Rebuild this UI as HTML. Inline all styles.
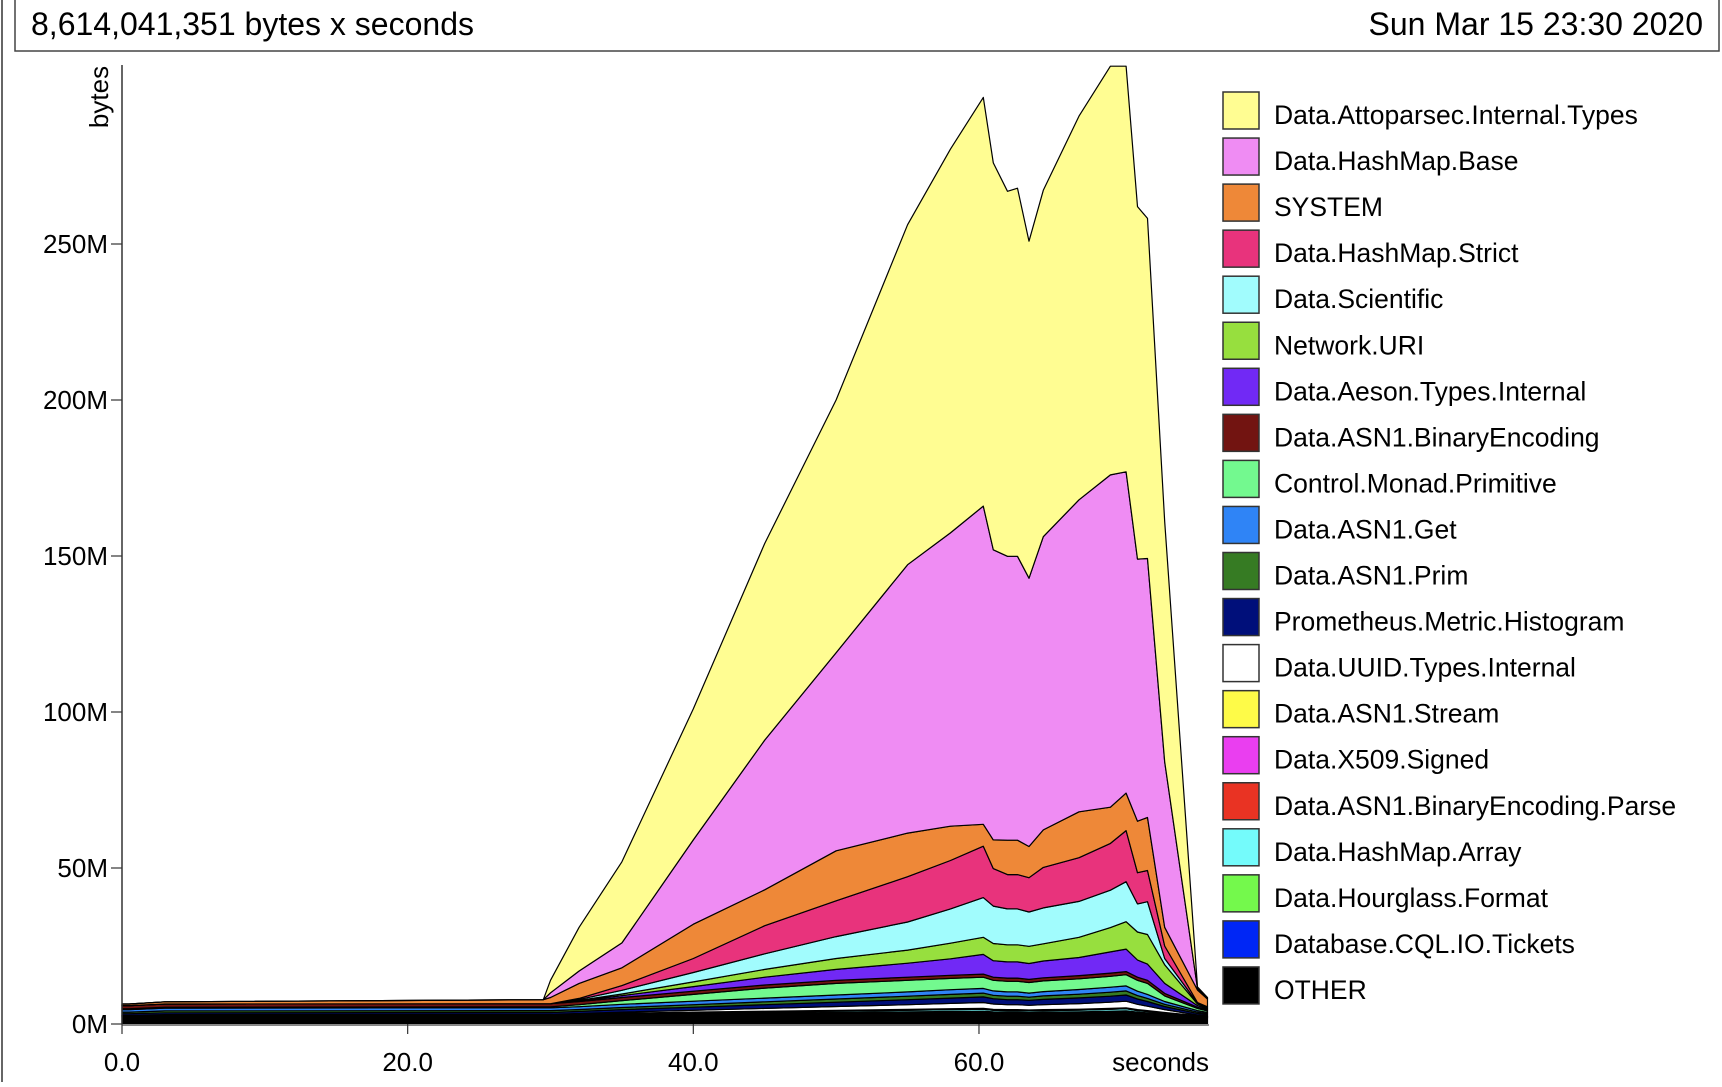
<!DOCTYPE html>
<html><head><meta charset="utf-8">
<style>
html,body{margin:0;padding:0;background:#fff;}
body{width:1722px;height:1082px;overflow:hidden;font-family:"Liberation Sans",Arial,sans-serif;}
svg text{font-family:"Liberation Sans",Arial,sans-serif;fill:#000;}
</style></head>
<body>
<svg id="chart" width="1722" height="1082" viewBox="0 0 1722 1082" xmlns="http://www.w3.org/2000/svg">
  <line x1="2" y1="0" x2="2" y2="1082" stroke="#666" stroke-width="2"/>
  <rect x="15" y="-2" width="1704" height="53" fill="#fff" stroke="#444" stroke-width="1.5"/>
  <text x="31" y="35" font-size="32">8,614,041,351 bytes x seconds</text>
  <text x="1703" y="35" font-size="32" text-anchor="end">Sun Mar 15 23:30 2020</text>
  <text transform="translate(108,97) rotate(-90)" font-size="26" text-anchor="middle">bytes</text>
  <g id="layers"></g>
  <g id="axes"></g>
  <g id="legend"></g>
</svg>
<script>
const times = [0,0.5,3,29.5,30,32,35,40,45,50,55,58,60.3,61,62,62.7,63.5,64.5,67,69.2,70.3,71.1,71.8,73,75.3,76];
const seriesNames = ["OTHER","Database.CQL.IO.Tickets","Data.Hourglass.Format","Data.HashMap.Array","Data.ASN1.BinaryEncoding.Parse","Data.X509.Signed","Data.ASN1.Stream","Data.UUID.Types.Internal","Prometheus.Metric.Histogram","Data.ASN1.Prim","Data.ASN1.Get","Control.Monad.Primitive","Data.ASN1.BinaryEncoding","Data.Aeson.Types.Internal","Network.URI","Data.Scientific","Data.HashMap.Strict","SYSTEM","Data.HashMap.Base","Data.Attoparsec.Internal.Types"];
const seriesColors = ["#000000","#0026f5","#74f94c","#74fbfb","#e93323","#ea3ef0","#fefb48","#ffffff","#000f7a","#367b23","#2f84f6","#73f98f","#721411","#7129f5","#97df3e","#a1fcfd","#e8337c","#ee8838","#ef8cf3","#fffd92"];
// values in MB per series (bottom to top)
const vOther = [2.2,2.2,2.4,2.5,2.5,2.6,2.8,3.0,3.2,3.4,3.6,3.7,3.8,3.6,3.5,3.5,3.4,3.5,3.6,3.8,3.9,3.5,3.3,2.8,2.0,1.8];
const vCql = [0.2,0.2,0.2,0.2,0.2,0.2,0.2,0.2,0.2,0.2,0.2,0.2,0.2,0.2,0.2,0.2,0.2,0.2,0.2,0.2,0.2,0.2,0.2,0.2,0.2,0.2];
const vHourglass = [0.1,0.1,0.1,0.1,0.1,0.1,0.1,0.1,0.1,0.1,0.1,0.1,0.1,0.1,0.1,0.1,0.1,0.1,0.1,0.1,0.1,0.1,0.1,0.1,0.1,0.1];
const vHmArray = [0,0,0,0,0,0.05,0.1,0.2,0.3,0.4,0.5,0.6,0.6,0.5,0.5,0.5,0.5,0.5,0.55,0.6,0.7,0.5,0.4,0.3,0.1,0.1];
const vParse = [0.1,0.1,0.1,0.1,0.1,0.1,0.1,0.1,0.1,0.1,0.1,0.1,0.1,0.1,0.1,0.1,0.1,0.1,0.1,0.1,0.1,0.1,0.1,0.1,0.1,0.1];
const vX509 = [0.1,0.1,0.1,0.1,0.1,0.1,0.1,0.1,0.1,0.1,0.1,0.1,0.1,0.1,0.1,0.1,0.1,0.1,0.1,0.1,0.1,0.1,0.1,0.1,0.1,0.1];
const vStream = [0.1,0.1,0.1,0.1,0.1,0.1,0.1,0.1,0.1,0.1,0.1,0.1,0.1,0.1,0.1,0.1,0.1,0.1,0.1,0.1,0.1,0.1,0.1,0.1,0.1,0.1];
const vUuid = [0,0,0,0,0,0.1,0.3,0.6,0.9,1.2,1.5,1.7,1.9,1.7,1.6,1.6,1.5,1.6,1.8,2.0,2.1,1.7,1.4,0.9,0.2,0.1];
const vHistogram = [0.5,0.5,0.6,0.6,0.6,0.7,0.8,1.0,1.2,1.4,1.6,1.7,1.8,1.7,1.6,1.6,1.6,1.7,1.8,1.9,2.0,1.7,1.5,1.0,0.5,0.4];
const vPrim = [0.5,0.5,0.6,0.6,0.6,0.6,0.7,0.8,0.9,1.0,1.1,1.2,1.2,1.1,1.1,1.1,1.0,1.1,1.2,1.3,1.3,1.1,1.0,0.7,0.4,0.3];
const vGet = [0.8,0.8,0.9,0.9,0.9,0.9,1.0,1.1,1.2,1.3,1.4,1.5,1.5,1.4,1.4,1.4,1.3,1.4,1.5,1.6,1.6,1.4,1.3,0.9,0.5,0.4];
const vMonad = [0.3,0.3,0.3,0.3,0.3,0.65,1.2,2.2,3.2,3.7,3.7,3.6,3.6,3.4,3.4,3.4,3.4,3.4,3.45,3.5,3.6,3.5,3.5,1.8,0.7,0.5];
const vBinEnc = [1,1,1,1,1,1,1,1,1,1,1,1,1,1,1,1,1,1,1,1,1,1,1,0.8,0.4,0.3];
const vAeson = [0,0,0,0,0,0.2,0.6,1.5,2.5,3.5,4.5,5.3,6.3,5.3,5.2,5.2,5.1,5.4,5.8,6.8,7.2,5.5,5.2,3.2,0.5,0.3];
const vUri = [0,0,0,0,0,0.2,0.5,1.5,2.5,3.5,4.2,5,5.5,5.5,5.5,5.5,5.5,5.5,6.5,7.8,8.8,9,9.5,6,0.5,0.3];
const vScientific = [0,0,0,0,0,0.3,1.2,3,5,7,9,11,12.7,12,11.5,11.5,11,11.5,11.5,12,12.8,9,10.5,2,0.3,0.2];
const vStrict = [0,0,0,0,0,0.3,1.5,4.5,9,11.5,14.5,15.5,16.5,12,11,11,11,13,14,15,16.4,10,10,4,0.2,0.2];
const vSystem = [0.5,0.5,0.7,1.3,2,4.8,5.7,11,11.5,16,14,11,7,9.2,11,11,10,12,14.7,11.6,12,16.5,17,6,4,2.5];
const vBase = [0,0,0,0,1.5,4,8,27,48,63.5,86,94,102,93,91,91,86,94,100,106.5,103,84,83,53,0.5,0.3];
const vAtto = [0,0,0,0,4,14,26,42,63,81,109,123,131,124,117,118,108,111,123,131,130,113,109,77,0.5,0.2];
const yTickValues = [0,50,100,150,200,250];
const yTickLabels = ["0M","50M","100M","150M","200M","250M"];
const xTickValues = [0,20,40,60];
const xTickLabels = ["0.0","20.0","40.0","60.0"];

const seriesValues = [vOther,vCql,vHourglass,vHmArray,vParse,vX509,vStream,vUuid,vHistogram,vPrim,vGet,vMonad,vBinEnc,vAeson,vUri,vScientific,vStrict,vSystem,vBase,vAtto];
const NS = "http://www.w3.org/2000/svg";
const X0 = 122, XPS = 14.283, Y0 = 1024, YPM = 3.12;
function xs(t){ return X0 + t*XPS; }
function ys(v){ return Y0 - v*YPM; }

const layers = document.getElementById('layers');
let cum = times.map(()=>0);
seriesValues.forEach((vals,si)=>{
  const lower = cum.slice();
  const upper = cum.map((c,i)=>c+vals[i]);
  let d = "M" + times.map((t,i)=>xs(t).toFixed(1)+","+ys(upper[i]).toFixed(1)).join(" L");
  for(let i=times.length-1;i>=0;i--) d += " L"+xs(times[i]).toFixed(1)+","+ys(lower[i]).toFixed(1);
  d += " Z";
  const p = document.createElementNS(NS,'path');
  p.setAttribute('d',d);
  p.setAttribute('fill',seriesColors[si]);
  p.setAttribute('stroke','#000');
  p.setAttribute('stroke-width','1.2');
  p.setAttribute('stroke-linejoin','round');
  
  
  layers.appendChild(p);
  cum = upper;
});

const axes = document.getElementById('axes');
function mk(tag,attrs,text){
  const e=document.createElementNS(NS,tag);
  for(const k in attrs) e.setAttribute(k,attrs[k]);
  if(text!==undefined) e.textContent=text;
  axes.appendChild(e); return e;
}
const yAxis = mk('line',{x1:X0,y1:65,x2:X0,y2:Y0,stroke:'#333','stroke-width':1.5});


const xAxis = mk('line',{x1:X0,y1:Y0+1,x2:xs(76.1),y2:Y0+1,stroke:'#888','stroke-width':2});


yTickValues.forEach((v,i)=>{
  const tk = mk('line',{x1:X0-11,y1:ys(v),x2:X0,y2:ys(v),stroke:'#333','stroke-width':1.2});
  
  
  const lb = mk('text',{x:X0-14,y:ys(v)+9,'font-size':26,'text-anchor':'end'},yTickLabels[i]);
  
  
});
xTickValues.forEach((v,i)=>{
  const tk = mk('line',{x1:xs(v),y1:Y0,x2:xs(v),y2:Y0+10,stroke:'#333','stroke-width':1.2});
  
  
  const lb = mk('text',{x:xs(v),y:1071,'font-size':26,'text-anchor':'middle'},xTickLabels[i]);
  
  
});
const xt = mk('text',{x:1209,y:1071,'font-size':26,'text-anchor':'end'},'seconds');



const legend = document.getElementById('legend');
for(let k=0;k<seriesNames.length;k++){
  const si = seriesNames.length-1-k;
  const y = 92 + k*46.05;
  const r = document.createElementNS(NS,'rect');
  r.setAttribute('x',1223); r.setAttribute('y',y); r.setAttribute('width',36); r.setAttribute('height',37);
  r.setAttribute('fill',seriesColors[si]); r.setAttribute('stroke','#333'); r.setAttribute('stroke-width','1.5');
  
  
  legend.appendChild(r);
  const t = document.createElementNS(NS,'text');
  t.setAttribute('x',1274); t.setAttribute('y',y+32); t.setAttribute('font-size','26.5');
  t.textContent = seriesNames[si];
  
  
  legend.appendChild(t);
}
</script>
</body></html>
